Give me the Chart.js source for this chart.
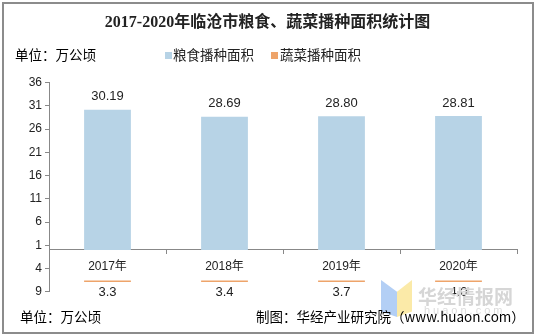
<!DOCTYPE html>
<html><head><meta charset="utf-8">
<script src="https://cdn.jsdelivr.net/npm/chart.js@4/dist/chart.umd.min.js"></script>
<style>
html,body{margin:0;padding:0;background:#fff;}
#wrap{position:relative;width:535px;height:336px;overflow:hidden;background:#fff;}
#frame{position:absolute;left:2px;top:2px;width:528px;height:328px;border:2px solid #8c8c8c;box-sizing:content-box;}
canvas{position:absolute;left:0;top:0;}
.t{position:absolute;white-space:nowrap;font-family:"Noto Sans CJK SC","Liberation Sans",sans-serif;color:#000;line-height:1;}
#title{left:0;width:535px;text-align:center;top:14px;font-size:16px;font-weight:bold;font-family:"Liberation Serif","Noto Sans CJK SC",serif;color:#222;}
.sq{position:absolute;width:7px;height:7px;}
#wm{position:absolute;left:418px;top:282px;font-size:19px;font-weight:bold;color:#d6d6d6;font-family:"Noto Sans CJK SC",sans-serif;}
#wm2{position:absolute;left:424px;top:304px;font-size:11px;color:#dcdcdc;letter-spacing:3px;font-family:"Liberation Sans",sans-serif;}
#lb{position:absolute;left:381px;top:280px;width:16px;height:37px;background:#b3cff5;clip-path:polygon(0 0,100% 32%,100% 100%,0 85%);}
#ly{position:absolute;left:397px;top:280px;width:15px;height:37px;background:#fbeaa8;clip-path:polygon(0 32%,100% 0,100% 85%,0 100%);}
</style></head>
<body><div id="wrap">
<canvas id="c" width="535" height="336"></canvas>
<div id="lb"></div><div id="ly"></div>
<div id="wm">华经情报网</div>
<div id="wm2">huaon.com</div>
<div id="frame"></div>
<div id="title" class="t">2017-2020年临沧市粮食、蔬菜播种面积统计图</div>
<div class="t" style="left:15px;top:48px;font-size:13.5px;">单位：万公顷</div>
<div class="sq" style="left:165px;top:52px;background:#b7d3e6;"></div>
<div class="t" style="left:173px;top:48px;font-size:13.5px;color:#222;">粮食播种面积</div>
<div class="sq" style="left:271px;top:52px;background:#eea46a;"></div>
<div class="t" style="left:280px;top:48px;font-size:13.5px;color:#222;">蔬菜播种面积</div>
<div class="t" style="left:20px;top:310px;font-size:13.5px;">单位：万公顷</div>
<div class="t" style="left:256px;top:310px;font-size:13.5px;">制图：华经产业研究院（www.huaon.com）</div>
</div>
<script>
const categories = ["2017年","2018年","2019年","2020年"];
const grainArea = [30.19, 28.69, 28.80, 28.81];
const vegetableArea = [3.3, 3.4, 3.7, 4.0];
const grainLabels = ["30.19","28.69","28.80","28.81"];
const vegetableLabels = ["3.3","3.4","3.7","4.0"];
const yMin = -9, yMax = 36, yStep = 5;
const vegRow = -6.6; // row where the vegetable marker sits below the category labels

const labelPlugin = {
  id:'valLabels',
  afterDatasetsDraw(chart){
    const ctx = chart.ctx;
    ctx.save();
    ctx.font = '13px "Liberation Sans", Arial, sans-serif';
    ctx.fillStyle = '#222';
    ctx.textAlign = 'center';
    ctx.textBaseline = 'middle';
    const m0 = chart.getDatasetMeta(0);
    m0.data.forEach((b,i)=>{ ctx.fillText(grainLabels[i], b.x, b.y - 13); });
    const m1 = chart.getDatasetMeta(1);
    m1.data.forEach((b,i)=>{ ctx.fillText(vegetableLabels[i], b.x, b.base + 12); });
    ctx.restore();
  }
};

new Chart(document.getElementById('c'), {
  type:'bar',
  data:{
    labels: categories,
    datasets:[
      {label:'粮食播种面积', data: grainArea, backgroundColor:'#b7d3e6', barPercentage:0.8, categoryPercentage:0.5, grouped:false},
      {label:'蔬菜播种面积', data: vegetableArea.map(()=>[vegRow, vegRow-0.3]), backgroundColor:'#eea46a', barPercentage:0.8, categoryPercentage:0.5, grouped:false}
    ]
  },
  options:{
    responsive:false, animation:false,
    layout:{padding:{left:0,top:82.7,right:18,bottom:44.3}},
    plugins:{legend:{display:false}, title:{display:false}, tooltip:{enabled:false}},
    scales:{
      x:{
        position:{y:0},
        offset:true,
        grid:{display:true, drawOnChartArea:false, drawTicks:true, tickLength:4, offset:true, color:'#888'},
        border:{display:true, color:'#888', width:1},
        ticks:{font:{size:12, family:'"Liberation Sans","Noto Sans CJK SC",sans-serif'}, color:'#222', padding:6}
      },
      y:{
        min:yMin, max:yMax,
        afterFit(s){ s.width = 49; },
        grid:{display:true, drawOnChartArea:false, drawTicks:true, tickLength:4, color:'#888'},
        border:{display:true, color:'#888', width:1},
        ticks:{stepSize:yStep, font:{size:12, family:'"Liberation Sans",Arial,sans-serif'}, color:'#222', padding:3,
          callback:(v)=>String(Math.abs(v))}
      }
    }
  },
  plugins:[labelPlugin]
});
</script>
</body></html>
